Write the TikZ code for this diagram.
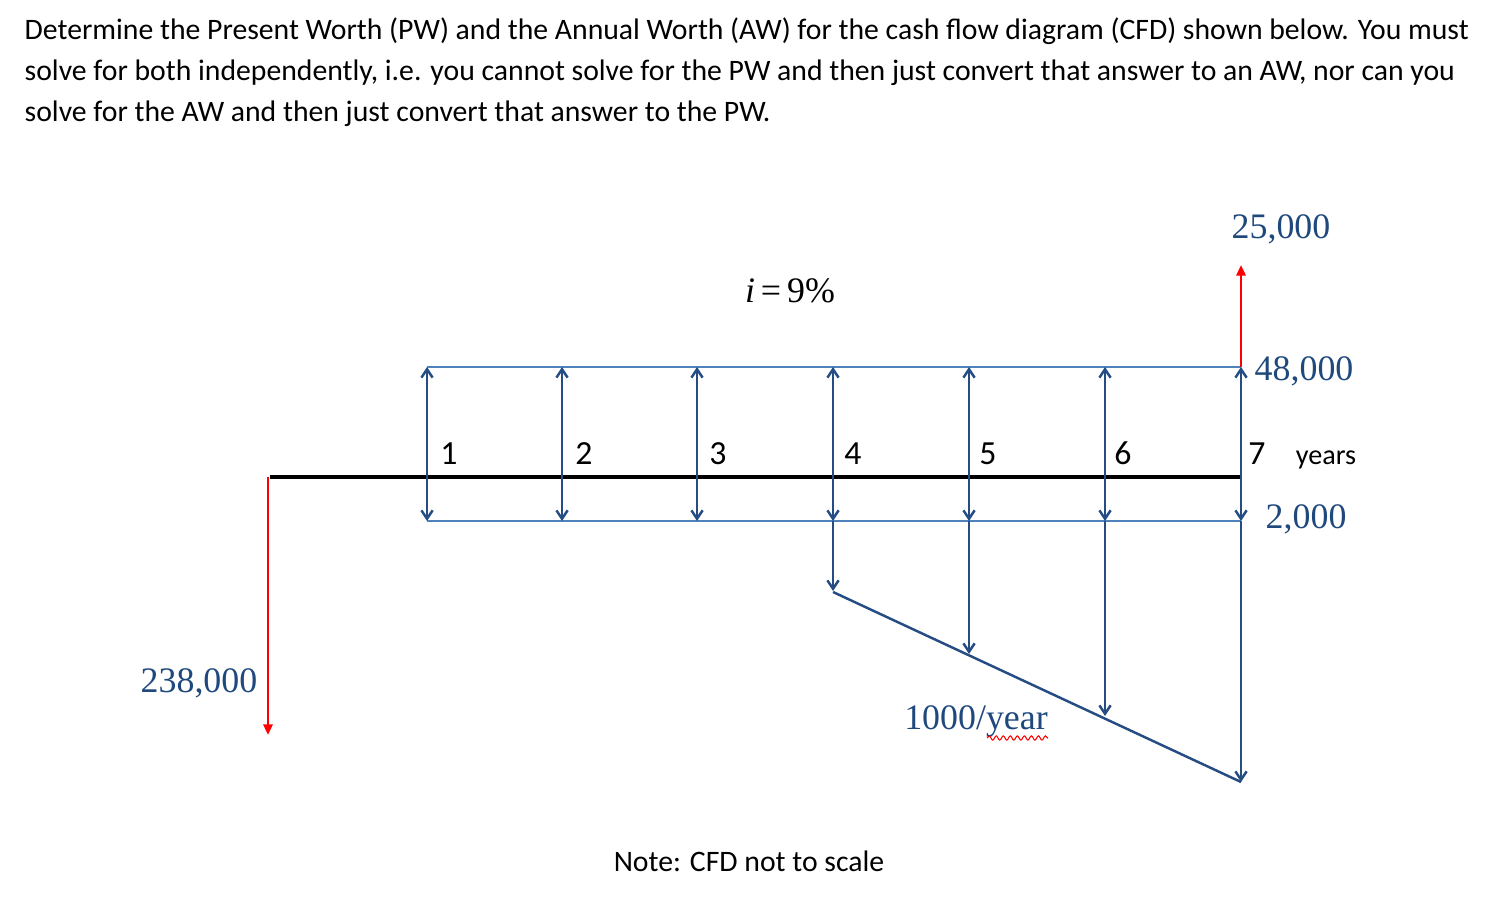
\documentclass[tikz,border=0pt]{standalone}
\usepackage{fontspec}
\setmainfont{Carlito}
\newfontfamily\tnr{Liberation Serif}
\usetikzlibrary{arrows.meta,decorations.pathmorphing}
\definecolor{cfdline}{RGB}{79,129,189}
\definecolor{cfdarrow}{RGB}{37,76,131}
\definecolor{cfdtext}{RGB}{31,73,125}
\definecolor{cfdred}{RGB}{255,0,0}

\begin{document}
\begin{tikzpicture}[x=0.01cm,y=-0.01cm]
\tikzstyle{body}=[inner sep=0pt,anchor=base west,font=\fontsize{8.45}{10}\selectfont]
\tikzstyle{yr}=[inner sep=0pt,anchor=base,font=\fontsize{9.6}{11}\selectfont]
\tikzstyle{amt}=[inner sep=0pt,text=cfdtext,font=\tnr\fontsize{10.2}{12}\selectfont]
\tikzstyle{flow}=[cfdarrow,line width=0.7pt,-{Straight Barb[length=2.4pt,width=3.2pt]}]
\tikzstyle{cash}=[cfdred,line width=0.7pt,-{Triangle[length=3pt,width=2.6pt]}]
\tikzstyle{uni}=[cfdline,line width=0.6pt]

\useasboundingbox (0,0) rectangle (1498,904);

\node[body] (q1) at (24,39.5) {Determine the Present Worth (PW) and the Annual Worth (AW) for the cash flow diagram (CFD) shown below. You must};
\node[body] (q2) at (24,80.7) {solve for both independently, i.e. you cannot solve for the PW and then just convert that answer to an AW, nor can you};
\node[body] (q3) at (24,121.7) {solve for the AW and then just convert that answer to the PW.};

\coordinate (o) at (270,477);
\coordinate (p0) at (268,477);
\coordinate (c0) at (268,735);

\coordinate (a1) at (427,477);
\coordinate (a2) at (562,477);
\coordinate (a3) at (697,477);
\coordinate (a4) at (833,477);
\coordinate (a5) at (969,477);
\coordinate (a6) at (1105,477);
\coordinate (a7) at (1241,477);

\coordinate (t1) at (427,367);
\coordinate (t2) at (562,367);
\coordinate (t3) at (697,367);
\coordinate (t4) at (833,367);
\coordinate (t5) at (969,367);
\coordinate (t6) at (1105,367);
\coordinate (t7) at (1241,367);

\coordinate (b1) at (427,521);
\coordinate (b2) at (562,521);
\coordinate (b3) at (697,521);
\coordinate (b4) at (833,521);
\coordinate (b5) at (969,521);
\coordinate (b6) at (1105,521);
\coordinate (b7) at (1241,521);

\coordinate (g4) at (833,591);
\coordinate (g5) at (969,654);
\coordinate (g6) at (1105,716);
\coordinate (g7) at (1241,782);
\coordinate (s4) at (833,592);
\coordinate (r7) at (1241,265);

% uniform series
\draw[uni] (t1) -- (t7);
\draw[uni] (b1) -- (b7);

% time axis
\draw[black,line width=1.1pt] (o) -- (a7);

\draw[flow] (a1) -- (t1);
\draw[flow] (a1) -- (b1);
\draw[flow] (a2) -- (t2);
\draw[flow] (a2) -- (b2);
\draw[flow] (a3) -- (t3);
\draw[flow] (a3) -- (b3);
\draw[flow] (a4) -- (t4);
\draw[flow] (a4) -- (b4);
\draw[flow] (a5) -- (t5);
\draw[flow] (a5) -- (b5);
\draw[flow] (a6) -- (t6);
\draw[flow] (a6) -- (b6);
\draw[flow] (a7) -- (t7);
\draw[flow] (a7) -- (b7);

% gradient
\draw[flow] (b4) -- (g4);
\draw[flow] (b5) -- (g5);
\draw[flow] (b6) -- (g6);
\draw[flow] (b7) -- (g7);
\draw[cfdarrow,line width=0.7pt] (s4) -- (g7);

\draw[cash] (p0) -- (c0);
\draw[cash] (t7) -- (r7);

\node[yr] (y1) at (449,465) {1};
\node[yr] (y2) at (584,465) {2};
\node[yr] (y3) at (718,465) {3};
\node[yr] (y4) at (853,465) {4};
\node[yr] (y5) at (988,465) {5};
\node[yr] (y6) at (1123,465) {6};
\node[yr] (y7) at (1257,465) {7};
\node[yr,font=\fontsize{8}{10}\selectfont] (yrs) at (1326,465) {years};

\node[amt,anchor=east] (p) at (258,683) {238,000};
\node[amt] (f) at (1281,229) {25,000};
\node[amt,anchor=west] (aw) at (1254,371) {48,000};
\node[amt,anchor=west] (ac) at (1265,519) {2,000};
\node[amt] (gr) at (976,721) {1000/year};
\node[inner sep=0pt,font=\tnr\fontsize{10.2}{12}\selectfont] (i) at (790,291) {\textit{i}\,=\,9\%};

\draw[cfdred,line width=0.3pt,decorate,decoration={snake,amplitude=0.6pt,segment length=2pt}] (987,738) -- (1048,738);

\node[inner sep=0pt,font=\fontsize{8.45}{10}\selectfont] (note) at (749,861) {Note: CFD not to scale};
\end{tikzpicture}
\end{document}
